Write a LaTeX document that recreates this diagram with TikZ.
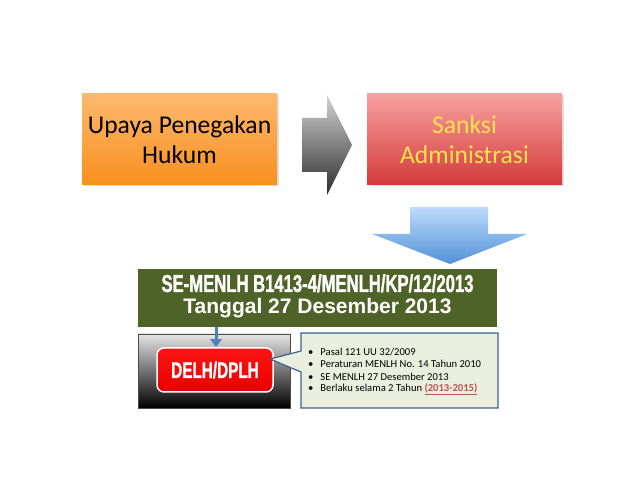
\documentclass[tikz,border=0pt]{standalone}
\usepackage{fontspec}
\setmainfont{Carlito}
\newfontfamily\arialf{Liberation Sans}
\newfontfamily\condf[FakeStretch=0.68,FakeBold=1.2]{Liberation Sans Bold}
\usetikzlibrary{arrows.meta,shadows}
\definecolor{olivegreen}{HTML}{4F6228}
\definecolor{callfill}{HTML}{E9EEDD}
\definecolor{callline}{HTML}{3A6190}
\definecolor{linkblue}{HTML}{4F81BD}
\definecolor{yearred}{HTML}{C0504D}
\definecolor{sankyellow}{HTML}{FFE34D}
\tikzset{
  topbox/.style={minimum width=195pt, minimum height=91pt, align=center, inner sep=0pt,
     font=\fontsize{25.6}{30}\selectfont, drop shadow={opacity=0.25,shadow xshift=1.5pt,shadow yshift=-1.5pt}},
  bulletline/.style={anchor=west, inner sep=0pt, font=\fontsize{10.6}{12.3}\selectfont},
}
\begin{document}
\begin{tikzpicture}[x=1pt,y=-1pt]
\useasboundingbox (0,0) rectangle (638,478);
\fill[white] (0,0) rectangle (638,478);
% top boxes
\node[topbox, top color={rgb,255:red,253;green,184;blue,110}, bottom color={rgb,255:red,247;green,144;blue,30}] (uph) at (179.5,139.5) {Upaya Penegakan\\Hukum};
\node[topbox, top color={rgb,255:red,248;green,160;blue,160}, bottom color={rgb,255:red,212;green,58;blue,58}, text=sankyellow] (sank) at (464.5,139.5) {Sanksi\\Administrasi};
% grey arrow
\shade[top color={rgb,255:red,210;green,210;blue,210}, bottom color={rgb,255:red,45;green,45;blue,45}]
  (302,118) -- (327,118) -- (327,95) -- (352,145) -- (327,195) -- (327,172) -- (302,172) -- cycle;
% blue arrow
\shade[top color={rgb,255:red,190;green,220;blue,250}, bottom color={rgb,255:red,80;green,145;blue,215}]
  (410,207) -- (488,207) -- (488,234) -- (527,234) -- (450,264) -- (372,234) -- (410,234) -- cycle;
% green box
\node[fill=olivegreen, minimum width=359pt, minimum height=58pt, inner sep=0pt] (green) at (317.5,298) {};
\node[text=white, font=\condf\fontsize{24.5}{24}\selectfont, inner sep=0pt, anchor=base] (semenlh) at (317.5,292) {SE-MENLH B1413-4/MENLH/KP/12/2013};
\node[text=white, font=\arialf\bfseries\fontsize{21}{22}\selectfont, inner sep=0pt, anchor=base] (tgl) at (317.5,314) {Tanggal 27 Desember 2013};
% grey box
\node[draw=black!70, line width=0.5pt, top color={rgb,255:red,228;green,228;blue,228}, bottom color=black, minimum width=152pt, minimum height=74pt, inner sep=0pt] (greybox) at (214,371) {};
% DELH box
\node[draw=white, line width=1.5pt, rounded corners=7pt, top color={rgb,255:red,255;green,20;blue,20}, bottom color={rgb,255:red,235;green,0;blue,0}, minimum width=116pt, minimum height=44pt, inner sep=0pt, text=white, font=\condf\fontsize{22.5}{22}\selectfont] (delh) at (215,370) {DELH/DPLH};
% link arrow
\draw[linkblue, line width=3pt, -{Triangle[length=8pt,width=11pt]}] (216,327) -- (delh.north -| 216,327);
% callout
\coordinate (ctip) at (270,359);
\draw[callline, line width=1.2pt, fill=callfill] (301,333) -- (498,333) -- (498,408) -- (301,408) -- (301,372) -- (ctip) -- (301,351) -- cycle;
\node[bulletline] (b1) at (308,352) {\textbullet\hspace{7pt}Pasal 121 UU 32/2009};
\node[bulletline] (b2) at (308,364.3) {\textbullet\hspace{7pt}Peraturan MENLH No. 14 Tahun 2010};
\node[bulletline] (b3) at (308,376.6) {\textbullet\hspace{7pt}SE MENLH 27 Desember 2013};
\node[bulletline] (b4) at (308,388.9) {\textbullet\hspace{7pt}Berlaku selama 2 Tahun \textcolor{yearred}{\bfseries\underline{(2013-2015)}}};
\end{tikzpicture}
\end{document}
